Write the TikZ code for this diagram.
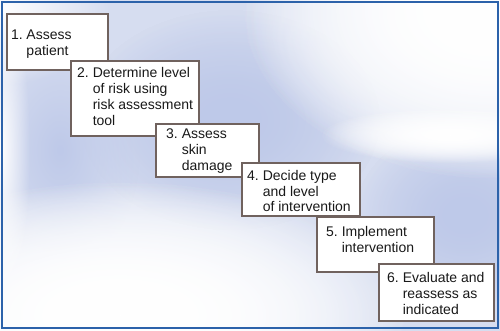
\documentclass[tikz,border=0pt]{standalone}
\usepackage{fontspec}
\setmainfont{Liberation Sans}
\usetikzlibrary{fadings}
\tikzfading[name=blobfade, inner color=transparent!0, outer color=transparent!100]
\definecolor{bgblue}{RGB}{214,221,240}
\definecolor{deepblue}{RGB}{190,201,233}
\definecolor{boxline}{RGB}{112,98,94}
\definecolor{framecol}{RGB}{44,98,170}
\begin{document}
\begin{tikzpicture}[x=1pt,y=-1pt,
  stepbox/.style={draw=boxline, line width=1.8pt, fill=white, inner sep=0pt, anchor=north west},
  steptext/.style={font=\fontsize{14}{16}\selectfont, inner sep=0pt, anchor=base west, text=black!90},
  blob/.style={fill=#1, path fading=blobfade}]
\useasboundingbox (0,0) rectangle (500,331);
% background shading
\begin{scope}
\clip (0,0) rectangle (500,331);
\fill[bgblue] (0,0) rectangle (500,331);
\foreach \k in {1,2}{
  \path[blob=deepblue] (230,120) ellipse (150 and 110);
  \path[blob=deepblue] (465,215) ellipse (110 and 90);
}
\path[blob=deepblue] (60,150) ellipse (80 and 120);
\foreach \k in {1,2,3}{
  \path[blob=white] (490,10) ellipse (250 and 170);
  \path[blob=white] (120,315) ellipse (290 and 135);
}
\foreach \k in {1,2}{
  \path[blob=white] (450,135) ellipse (130 and 28);
}
\path[blob=white] (0,10) ellipse (110 and 75);
\path[blob=white] (0,150) ellipse (30 and 160);
\end{scope}
% boxes
\node[stepbox, minimum width=101pt, minimum height=56pt] (b1) at (6,13) {};
\node[steptext] (t1) at (11,40) {\begin{tabular}[t]{@{}l@{\hspace{3.6pt}}l@{}}1.&Assess\\&patient\end{tabular}};
\node[stepbox, minimum width=128pt, minimum height=75pt] (b2) at (70,60) {};
\node[steptext] (t2) at (77,78) {\begin{tabular}[t]{@{}l@{\hspace{3.9pt}}l@{}}2.&Determine level\\&of risk using\\&risk assessment\\&tool\end{tabular}};
\node[stepbox, minimum width=103pt, minimum height=53pt] (b3) at (155,123) {};
\node[steptext] (t3) at (166,139) {\begin{tabular}[t]{@{}l@{\hspace{3.9pt}}l@{}}3.&Assess\\&skin\\&damage\end{tabular}};
\node[stepbox, minimum width=118pt, minimum height=53pt] (b4) at (241,162) {};
\node[steptext] (t4) at (247,180) {\begin{tabular}[t]{@{}l@{\hspace{3.9pt}}l@{}}4.&Decide type\\&and level\\&of intervention\end{tabular}};
\node[stepbox, minimum width=117pt, minimum height=55pt] (b5) at (316,216) {};
\node[steptext] (t5) at (326,236) {\begin{tabular}[t]{@{}l@{\hspace{3.9pt}}l@{}}5.&Implement\\&intervention\end{tabular}};
\node[stepbox, minimum width=115pt, minimum height=57pt] (b6) at (378,263) {};
\node[steptext] (t6) at (387,282) {\begin{tabular}[t]{@{}l@{\hspace{3.9pt}}l@{}}6.&Evaluate and\\&reassess as\\&indicated\end{tabular}};
% frame
\draw[framecol, line width=2pt] (2,2) rectangle (498,328);
\end{tikzpicture}
\end{document}
